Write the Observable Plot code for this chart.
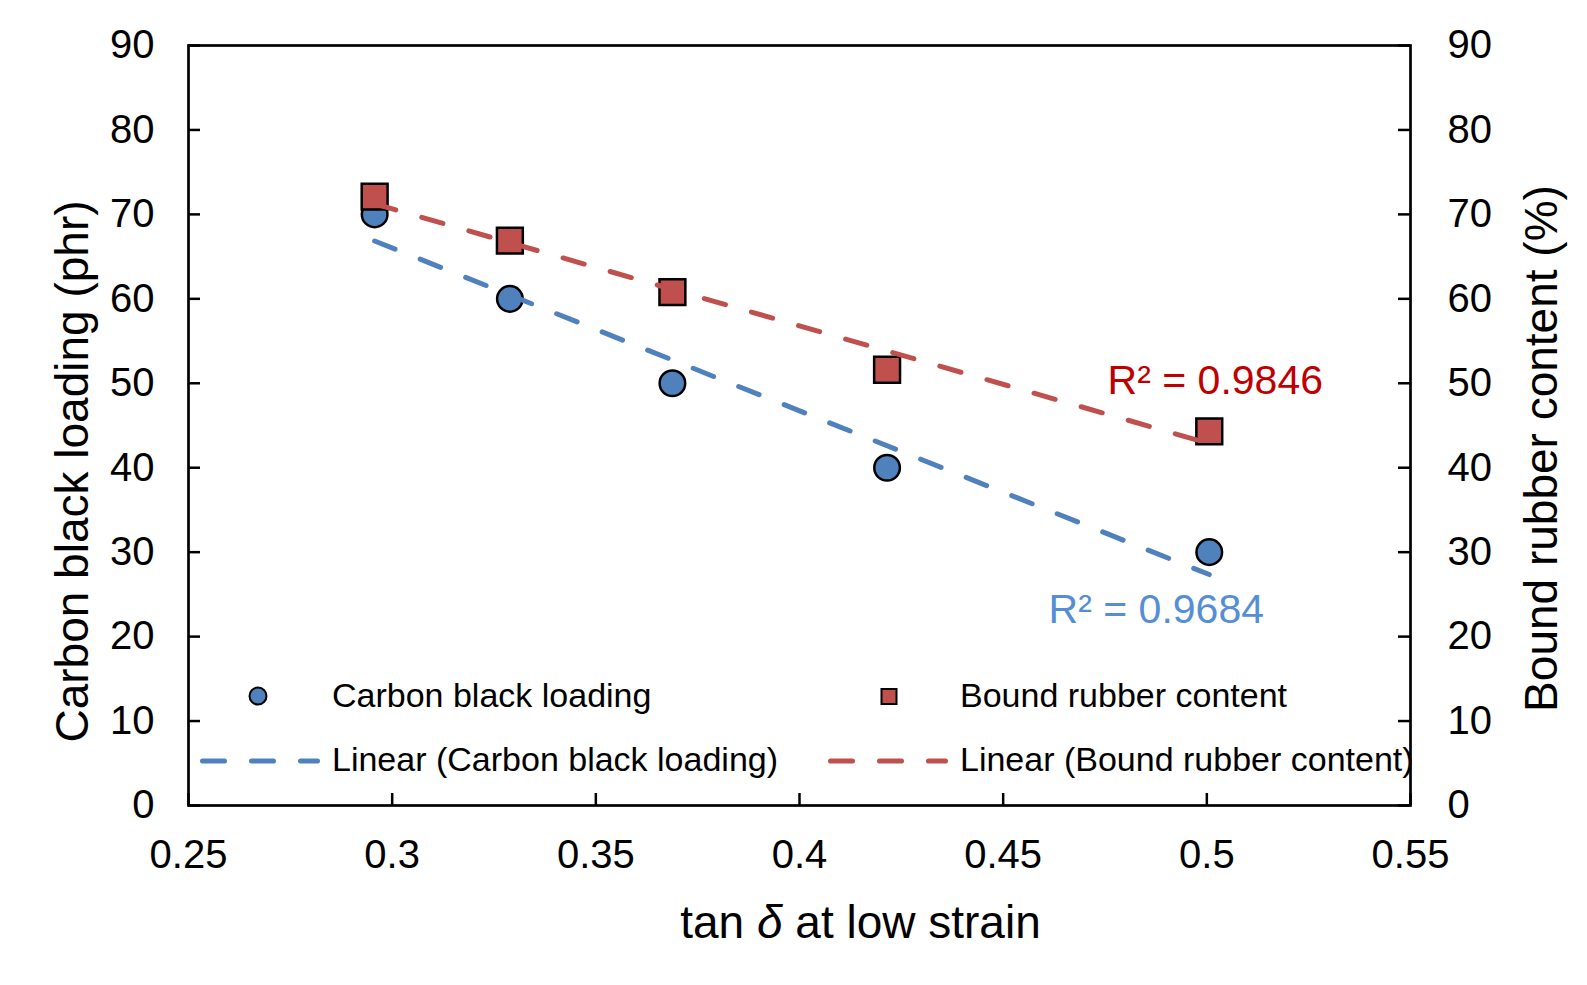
<!DOCTYPE html>
<html>
<head>
<meta charset="utf-8">
<script src="https://cdn.jsdelivr.net/npm/d3@7"></script>
<script src="https://cdn.jsdelivr.net/npm/@observablehq/plot@0.6"></script>
<style>
  html, body { margin: 0; padding: 0; background: #fff; overflow: hidden; }
  #wrap { position: relative; width: 1587px; height: 985px; }
  #wrap > svg { position: absolute; left: 0; top: 0; }
  text { font-family: "Liberation Sans", Arial, sans-serif; }
</style>
</head>
<body>
<div id="wrap"></div>
<script>
// ---- data ----
const tanDelta = [0.2957, 0.3289, 0.3688, 0.4215, 0.5006];
const carbonBlack = [70, 60, 50, 40, 30];
const boundRubber = [72.1, 66.9, 60.8, 51.6, 44.3];
const xTicks = [0.25, 0.3, 0.35, 0.4, 0.45, 0.5, 0.55];
const yTicks = [0, 10, 20, 30, 40, 50, 60, 70, 80, 90];
const seriesNames = ["Carbon black loading", "Bound rubber content"];
const trendNames = ["Linear (Carbon black loading)", "Linear (Bound rubber content)"];
const r2Labels = ["R² = 0.9684", "R² = 0.9846"];
const xTitle = "tan δ at low strain";
const yLeftTitle = "Carbon black loading (phr)";
const yRightTitle = "Bound rubber content (%)";

const blue = "#4F81BD", red = "#C0504D";
const font = "Liberation Sans, Arial, sans-serif";

const cb = tanDelta.map((x, i) => ({x, y: carbonBlack[i]}));
const br = tanDelta.map((x, i) => ({x, y: boundRubber[i]}));

const W = 1587, H = 985, mL = 188, mR = 177, mT = 45, mB = 180;
const pw = W - mL - mR, ph = H - mT - mB;

const chart = Plot.plot({
  width: W, height: H,
  marginLeft: mL, marginRight: mR, marginTop: mT, marginBottom: mB,
  style: {fontFamily: font, background: "white", color: "black", overflow: "visible"},
  x: {domain: [0.25, 0.55]},
  y: {domain: [0, 90]},
  marks: [
    // inward ticks
    Plot.tickX(xTicks, {x: d => d, stroke: "black", strokeWidth: 2.5, insetTop: ph - 12}),
    Plot.tickY(yTicks, {y: d => d, stroke: "black", strokeWidth: 2.5, insetRight: pw - 12}),
    Plot.tickY(yTicks, {y: d => d, stroke: "black", strokeWidth: 2.5, insetLeft: pw - 12}),
    Plot.axisX(xTicks, {tickSize: 0, tickPadding: 34, fontSize: 40, label: null,
      tickFormat: d => String(Math.round(d * 100) / 100)}),
    Plot.axisY(yTicks, {anchor: "left", tickSize: 0, tickPadding: 34, fontSize: 40, label: null}),
    Plot.axisY(yTicks, {anchor: "right", tickSize: 0, tickPadding: 37, fontSize: 40, label: null}),
    Plot.frame({stroke: "black", strokeWidth: 2.7}),
    // axis titles
    Plot.text([xTitle], {frameAnchor: "bottom", text: d => d, fontSize: 46, dx: 61, dy: 118,
      lineAnchor: "middle", textAnchor: "middle", className: "xtitle"}),
    Plot.text([yLeftTitle], {frameAnchor: "left", text: d => d, fontSize: 46, rotate: -90,
      dx: -115, dy: 46, lineAnchor: "middle", textAnchor: "middle"}),
    Plot.text([yRightTitle], {frameAnchor: "right", text: d => d, fontSize: 46, rotate: -90,
      dx: 132, dy: 23, lineAnchor: "middle", textAnchor: "middle"}),
    // markers
    Plot.dot(cb, {x: "x", y: "y", r: 12.8, fill: blue, stroke: "black", strokeWidth: 2.5}),
    Plot.dot(br, {x: "x", y: "y", r: 14.6, symbol: "square", fill: red, stroke: "black", strokeWidth: 2.5}),
    // trend lines
    Plot.linearRegressionY(cb, {x: "x", y: "y", ci: 0, stroke: blue, strokeWidth: 5,
      strokeDasharray: "22,27", strokeLinecap: "round"}),
    Plot.linearRegressionY(br, {x: "x", y: "y", ci: 0, stroke: red, strokeWidth: 5,
      strokeDasharray: "22,27", strokeLinecap: "round"}),
    // R² annotations anchored at the last point of each series
    Plot.text(cb.slice(-1), {x: "x", y: "y", text: () => r2Labels[0], fill: "#558ED5",
      fontSize: 41, dx: -53, dy: 58, lineAnchor: "middle", textAnchor: "middle"}),
    Plot.text(br.slice(-1), {x: "x", y: "y", text: () => r2Labels[1], fill: "#C00000",
      fontSize: 41, dx: 6, dy: -51, lineAnchor: "middle", textAnchor: "middle"})
  ]
});

document.getElementById("wrap").appendChild(chart);

// italic delta in x title
d3.select(chart).selectAll(".xtitle text").each(function() {
  const t = d3.select(this);
  const s = t.text();
  const i = s.indexOf("δ");
  t.text(null);
  t.append("tspan").text(s.slice(0, i));
  t.append("tspan").attr("font-style", "italic").text("δ");
  t.append("tspan").text(s.slice(i + 1));
});

// legend inside the plot area (overlay)
const leg = d3.select("#wrap").append("svg")
  .attr("width", W).attr("height", H)
  .style("position", "absolute").style("left", "0px").style("top", "0px")
  .style("pointer-events", "none");
const legFont = 34;
const cols = [
  {markerX: 258, textX: 332, lineX1: 202.5, lineX2: 317.5, color: blue, kind: "circle"},
  {markerX: 889, textX: 960, lineX1: 830.5, lineX2: 945.5, color: red, kind: "square"}
];
cols.forEach((c, i) => {
  if (c.kind === "circle") {
    leg.append("circle").attr("cx", c.markerX).attr("cy", 696).attr("r", 8.5)
      .attr("fill", c.color).attr("stroke", "black").attr("stroke-width", 2);
  } else {
    leg.append("rect").attr("x", c.markerX - 7.5).attr("y", 689).attr("width", 15).attr("height", 15)
      .attr("fill", c.color).attr("stroke", "black").attr("stroke-width", 2);
  }
  leg.append("text").attr("x", c.textX).attr("y", 707).attr("font-size", legFont)
    .attr("font-family", font).text(seriesNames[i]);
  leg.append("line").attr("x1", c.lineX1).attr("x2", c.lineX2).attr("y1", 761).attr("y2", 761)
    .attr("stroke", c.color).attr("stroke-width", 5).attr("stroke-linecap", "round")
    .attr("stroke-dasharray", "22,27");
  leg.append("text").attr("x", c.textX).attr("y", 771).attr("font-size", legFont)
    .attr("font-family", font).text(trendNames[i]);
});
</script>
</body>
</html>
